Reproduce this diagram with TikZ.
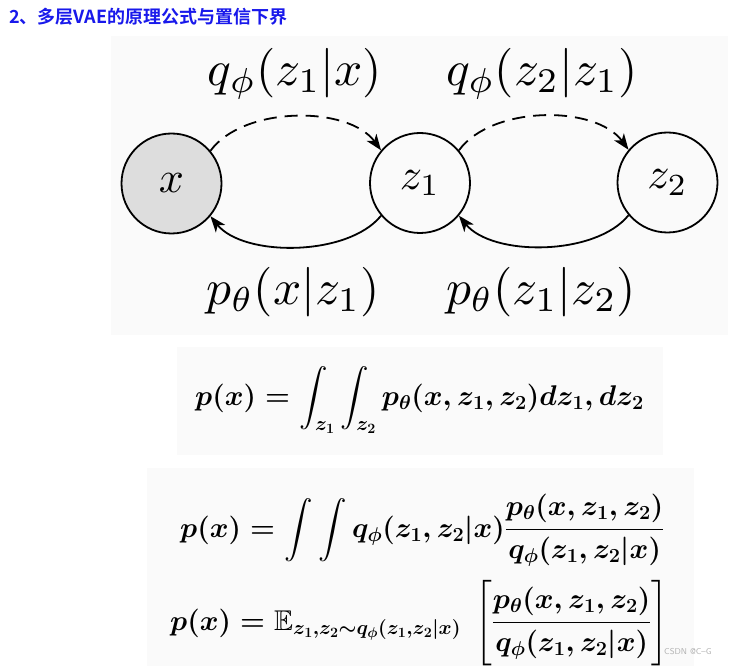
\documentclass[tikz,border=0pt]{standalone}
\usepackage{fix-cm}
\usepackage{amssymb}
\usepackage{graphicx}
\usepackage{fontspec}
\newfontfamily\cjk{Noto Sans CJK SC}[BoldFont={Noto Sans CJK SC Bold}]
\usetikzlibrary{arrows.meta}
\definecolor{titleblue}{RGB}{25,25,235}
\definecolor{panelgray}{RGB}{250,250,250}
\definecolor{nodegray}{RGB}{221,221,221}
\newcommand{\bigmath}[2]{\scalebox{#1}{$#2$}}
\tikzset{
  var/.style={circle, draw, line width=1.8pt, minimum size=100pt, inner sep=0pt},
  lab/.style={inner sep=0pt},
  formula/.style={inner sep=0pt, anchor=base west, font=\fontsize{28.5}{34}\selectfont\boldmath},
  conn/.style={line width=1.8pt, -{Stealth[length=16pt,width=12pt,inset=4.5pt]}},
  dashconn/.style={conn, dash pattern=on 13pt off 8pt},
  panel/.style={fill=panelgray, draw=none}
}
\begin{document}
\begin{tikzpicture}[x=1pt,y=-1pt]
\useasboundingbox (0,0) rectangle (732,666);
\fill[white] (0,0) rectangle (732,666);
% panels
\path[panel] (111,36) rectangle (728,335);
\path[panel] (177,347) rectangle (663,455);
\path[panel] (147,468) rectangle (694,666);
% title
\node[anchor=west, inner sep=0pt, text=titleblue, font=\cjk\bfseries\fontsize{18}{20}\selectfont] (title) at (9,17) {2、多层VAE的原理公式与置信下界};
% nodes
\node[var, fill=nodegray] (x) at (171.5,183.5) {\bigmath{4.4}{x}};
\node[var] (z1) at (420,183) {\bigmath{4.4}{z_1}};
\node[var] (z2) at (667.5,182.5) {\bigmath{4.4}{z_2}};
% labels
\node[lab] (q1) at (295,74) {\bigmath{4.95}{q_\phi(z_1|x)}};
\node[lab] (q2) at (542,74) {\bigmath{4.95}{q_\phi(z_2|z_1)}};
\node[lab] (p1) at (293,292) {\bigmath{4.95}{p_\theta(x|z_1)}};
\node[lab] (p2) at (541,292) {\bigmath{4.95}{p_\theta(z_1|z_2)}};
% connectors
\draw[dashconn] (x.40) .. controls +(33,-45) and +(-33,-45) .. (z1.140);
\draw[dashconn] (z1.40) .. controls +(33,-45) and +(-33,-45) .. (z2.140);
\draw[conn] (z1.220) .. controls +(-33,41) and +(33,41) .. (x.320);
\draw[conn] (z2.220) .. controls +(-33,41) and +(33,41) .. (z1.320);
% formulas
\node[formula] (f1) at (195,405) {$\displaystyle p(x) = \int_{z_1}\int_{z_2} p_\theta(x,z_1,z_2)dz_1,dz_2$};
\node[formula] (f2) at (180,537) {$\displaystyle p(x) = \int\int q_\phi(z_1,z_2|x)\frac{p_\theta(x,z_1,z_2)}{q_\phi(z_1,z_2|x)}$};
\node[formula] (f3) at (170,630) {$\displaystyle p(x) = \mathbb{E}_{z_1,z_2\sim q_\phi(z_1,z_2|x)}\ \left[\frac{p_\theta(x,z_1,z_2)}{q_\phi(z_1,z_2|x)}\right]$};
% watermark
\node[anchor=west, inner sep=0pt, text=gray!60, font=\sffamily\fontsize{8.5}{9}\selectfont] (wm) at (664,652) {CSDN @C--G};
\end{tikzpicture}
\end{document}
